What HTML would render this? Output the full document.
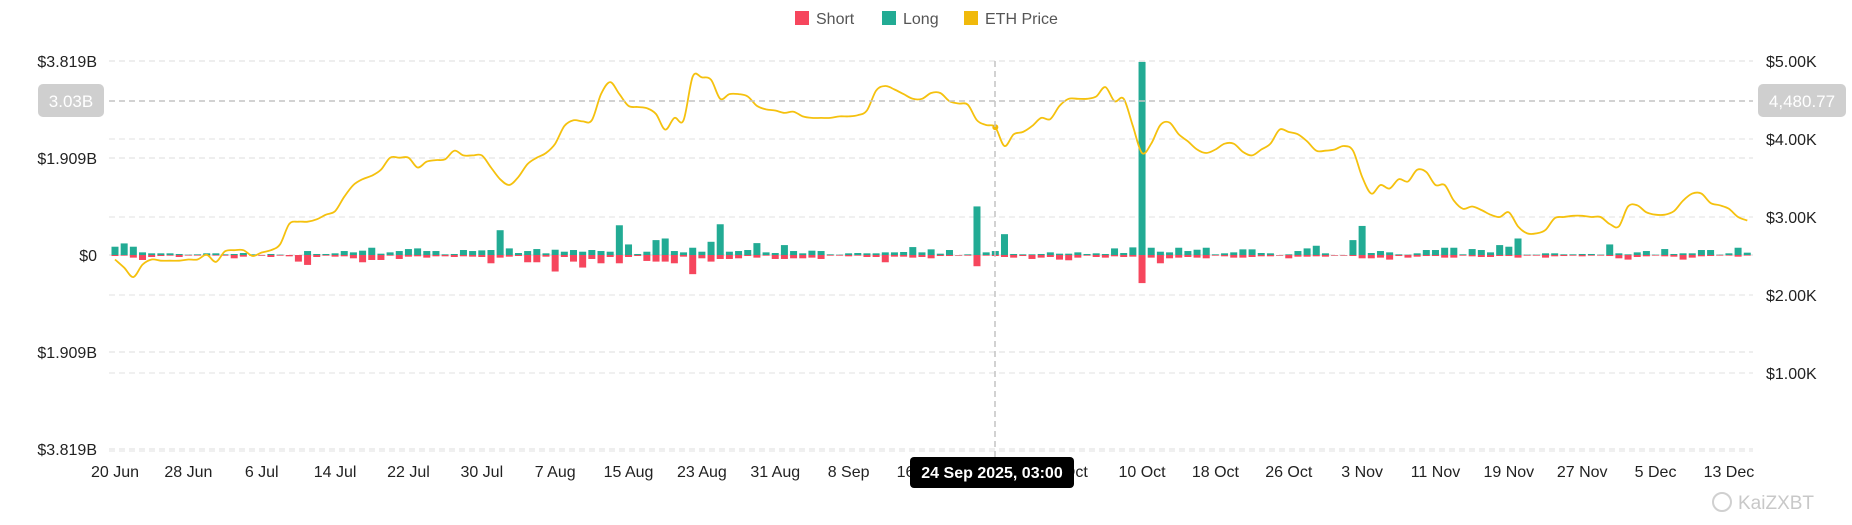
<!DOCTYPE html>
<html><head><meta charset="utf-8"><style>
html,body{margin:0;padding:0;background:#fff;}
svg{display:block;font-family:"Liberation Sans",sans-serif;}
</style></head><body>
<svg id="chart" width="1852" height="525" viewBox="0 0 1852 525">
  <g font-size="16" fill="#555">
    <g><rect x="795" y="11" width="14" height="14" fill="#f6465d"/><text x="816" y="24">Short</text></g>
    <g><rect x="882" y="11" width="14" height="14" fill="#22ab94"/><text x="903" y="24">Long</text></g>
    <g><rect x="964" y="11" width="14" height="14" fill="#f0b90b"/><text x="985" y="24">ETH Price</text></g>
  </g>
  <g id="grid"></g>
  <g id="bars"></g>
  <g id="lineg"></g>
  <g id="axes" font-size="16" fill="#222"></g>
  <g>
    <line x1="109" x2="1753" y1="101" y2="101" stroke="#c4c4c4" stroke-width="1.5" stroke-dasharray="6 4"/>
    <line x1="995" x2="995" y1="61" y2="458" stroke="#c4c4c4" stroke-width="1.5" stroke-dasharray="6 4"/>
    <rect x="38" y="84" width="66" height="33" rx="5" fill="#cfcfcf"/>
    <text x="71" y="107" font-size="17" fill="#fff" text-anchor="middle">3.03B</text>
    <rect x="1758" y="84" width="88" height="33" rx="5" fill="#cfcfcf"/>
    <text x="1802" y="107" font-size="17" fill="#fff" text-anchor="middle">4,480.77</text>
  </g>
  <g id="tip">
    <rect x="910" y="457" width="164" height="31" rx="4" fill="#000"/>
    <text x="992" y="478" font-size="16" font-weight="bold" fill="#fff" text-anchor="middle">24 Sep 2025, 03:00</text>
  </g>
  <g fill="#c8c8c8">
    <circle cx="1722" cy="502" r="9" fill="none" stroke="#d0d0d0" stroke-width="2"/>
    <text x="1738" y="509" font-size="19">KaiZXBT</text>
  </g>
</svg>
<script>
const longVals=[163,228,163,52,33,33,33,20,7,13,33,33,13,20,39,13,0,20,7,0,0,78,20,20,33,78,52,85,143,26,52,78,117,130,78,78,13,20,98,78,91,98,488,130,39,78,117,33,104,65,98,65,98,78,65,585,208,20,65,293,325,78,52,143,65,260,605,65,78,98,234,52,39,195,78,33,85,78,13,7,33,39,33,33,52,52,59,156,52,111,26,98,0,13,956,52,78,410,20,13,13,20,52,26,26,52,20,33,20,130,39,150,3800,143,65,52,143,78,104,143,13,33,52,111,111,39,33,0,13,78,130,182,33,0,0,293,572,39,78,52,13,7,33,98,98,143,143,13,117,98,52,195,163,325,7,7,33,33,13,13,20,20,7,208,33,13,52,78,7,117,20,33,33,98,98,7,33,143,46];
const shortVals=[20,13,52,98,39,20,13,39,7,7,13,0,13,65,33,13,13,39,13,26,130,195,39,13,33,26,65,143,98,98,13,78,33,26,52,26,26,39,26,33,39,163,52,33,20,143,143,33,325,39,130,247,78,163,39,163,39,20,117,130,130,163,33,377,65,130,78,78,65,20,52,13,78,78,65,65,52,78,13,13,26,13,39,39,143,33,33,52,39,65,20,20,0,13,221,13,20,39,52,20,78,52,39,91,104,52,13,39,52,26,39,33,553,52,163,65,52,39,52,65,13,26,52,52,39,26,26,0,65,33,33,26,33,0,0,20,65,65,52,91,20,52,33,20,20,52,52,13,26,39,39,20,20,52,13,13,52,26,20,13,26,13,0,20,65,91,39,26,0,26,33,91,52,26,20,0,0,33,0];
const priceVals=[2455,2350,2230,2390,2455,2440,2440,2440,2455,2455,2515,2425,2560,2575,2575,2500,2545,2575,2650,2910,2940,2940,2970,3030,3075,3260,3410,3485,3530,3605,3760,3760,3760,3635,3710,3730,3740,3850,3790,3790,3790,3635,3485,3410,3515,3680,3760,3820,3940,4165,4240,4225,4240,4575,4730,4575,4425,4410,4395,4320,4120,4270,4240,4800,4790,4760,4515,4575,4575,4545,4425,4380,4365,4335,4350,4290,4270,4270,4270,4290,4290,4305,4365,4620,4680,4635,4575,4515,4515,4590,4590,4485,4455,4440,4240,4180,4150,3910,4060,4090,4165,4270,4255,4425,4515,4515,4515,4545,4665,4485,4515,4165,3820,3940,4180,4210,4060,3970,3865,3820,3865,3940,3940,3835,3790,3865,3940,4120,4090,4060,3970,3850,3850,3865,3910,3850,3515,3300,3410,3365,3485,3455,3605,3575,3410,3410,3210,3105,3135,3090,3030,3000,3060,2880,2790,2790,2835,2985,3000,3015,3015,3000,3000,2910,2880,3135,3150,3060,3030,3030,3075,3210,3300,3300,3180,3150,3105,3000,2955];
const xLabels=["20 Jun","28 Jun","6 Jul","14 Jul","22 Jul","30 Jul","7 Aug","15 Aug","23 Aug","31 Aug","8 Sep","16 Sep","24 Sep","2 Oct","10 Oct","18 Oct","26 Oct","3 Nov","11 Nov","19 Nov","27 Nov","5 Dec","13 Dec"];
const leftTicks=[3819,1909,0,-1909,-3819];
const leftTickLabels=["$3.819B","$1.909B","$0","$1.909B","$3.819B"];
const rightTicks=[5000,4000,3000,2000,1000];
const rightTickLabels=["$5.00K","$4.00K","$3.00K","$2.00K","$1.00K"];

const NS="http://www.w3.org/2000/svg";
const X0=115, DX=9.17, PL=109, PR=1753;
const xPos=d=>X0+d*DX;
const yL=v=>255-v*97/1909;
const yR=p=>451-p*0.078;
function mk(tag,attrs,parent){const e=document.createElementNS(NS,tag);for(const k in attrs)e.setAttribute(k,attrs[k]);parent.appendChild(e);return e;}

const grid=document.getElementById('grid');
leftTicks.forEach(v=>{const l=mk('line',{x1:PL,x2:PR,y1:yL(v),y2:yL(v),stroke:'#e8e8e8','stroke-width':1.5,'stroke-dasharray':'6 4'},grid);

});
rightTicks.concat([0]).forEach(v=>{const l=mk('line',{x1:PL,x2:PR,y1:yR(v),y2:yR(v),stroke:'#ececec','stroke-width':1.5,'stroke-dasharray':'6 4'},grid);

});

const axes=document.getElementById('axes');
leftTicks.forEach((v,i)=>{const t=mk('text',{x:97,y:yL(v)+6,'text-anchor':'end'},axes);t.textContent=leftTickLabels[i];

});
rightTicks.forEach((v,i)=>{const t=mk('text',{x:1766,y:yR(v)+6},axes);t.textContent=rightTickLabels[i];

});
xLabels.forEach((s,i)=>{const t=mk('text',{x:xPos(i*8),y:477,'text-anchor':'middle'},axes);t.textContent=s;

});

const bars=document.getElementById('bars');
const BW=7;
longVals.forEach((v,i)=>{const y=yL(v);const r=mk('rect',{x:xPos(i)-BW/2,y:y,width:BW,height:Math.max(0.6,255-y),fill:'#22ab94'},bars);

});
shortVals.forEach((v,i)=>{const y=yL(-v);const r=mk('rect',{x:xPos(i)-BW/2,y:255,width:BW,height:Math.max(0.6,y-255),fill:'#f6465d'},bars);

});

const pts=priceVals.map((p,i)=>[xPos(i),yR(p)]);
let d='M'+pts[0][0]+','+pts[0][1];
for(let i=0;i<pts.length-1;i++){const p0=pts[Math.max(0,i-1)],p1=pts[i],p2=pts[i+1],p3=pts[Math.min(pts.length-1,i+2)];
const c1x=p1[0]+(p2[0]-p0[0])/6,c1y=p1[1]+(p2[1]-p0[1])/6,c2x=p2[0]-(p3[0]-p1[0])/6,c2y=p2[1]-(p3[1]-p1[1])/6;
d+=` C${c1x.toFixed(1)},${c1y.toFixed(1)} ${c2x.toFixed(1)},${c2y.toFixed(1)} ${p2[0].toFixed(1)},${p2[1].toFixed(1)}`;}
const lineg=document.getElementById('lineg');
const path=mk('path',{d:d,fill:'none',stroke:'#f5c10e','stroke-width':1.8},lineg);


const mi=96;
const dot=mk('circle',{cx:xPos(mi),cy:yR(priceVals[mi]),r:3,fill:'#f0b90b'},lineg);


</script>
</body></html>
